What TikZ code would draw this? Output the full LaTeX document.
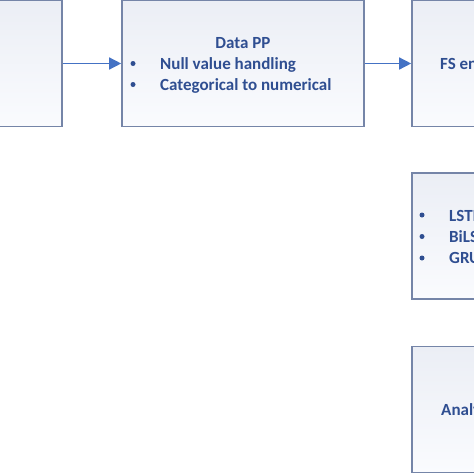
\documentclass[tikz,border=0pt]{standalone}
\usepackage{fontspec}
\setmainfont{Carlito}
\usetikzlibrary{arrows.meta, positioning}
\definecolor{boxline}{RGB}{117,133,168}
\definecolor{boxtop}{RGB}{235,238,245}
\definecolor{boxbot}{RGB}{250,251,254}
\definecolor{txtblue}{RGB}{47,78,145}
\definecolor{arrblue}{RGB}{68,114,196}
\tikzset{
  stage/.style={draw=boxline, line width=1.6pt, top color=boxtop, bottom color=boxbot,
    minimum width=242pt, minimum height=126pt, inner sep=0pt},
  label/.style={text=txtblue, font=\bfseries\fontsize{17}{21}\selectfont, inner sep=0pt, anchor=base west},
  dot/.style={fill=txtblue, circle, inner sep=0pt, minimum size=5pt},
  flow/.style={draw=arrblue, line width=1.4pt, -{Triangle[length=12pt,width=12pt]}}
}

\begin{document}
\begin{tikzpicture}[x=1pt,y=-1pt]
\useasboundingbox (0,0) rectangle (474,474);
\clip (0,0) rectangle (474,474);
% boxes
\node[stage] (input) at (-59,63.5) {};
\node[stage] (datapp) at (243,63.5) {};
\node[stage] (fs) at (533,63.5) {};
\node[stage] (models) at (533,236) {};
\node[stage] (analysis) at (533,409.5) {};
% Data PP text
\node[label, anchor=base] (ppt) at (243,48) {Data PP};
\node[dot] (pp1) at (133,63.5) {};
\node[label] (pp1t) at (160,69) {Null value handling};
\node[dot] (pp2) at (133,84.5) {};
\node[label] (pp2t) at (160,90) {Categorical to numerical};
% FS text
\node[label] (fst) at (440,69) {FS engineering};
% models text
\node[dot] (m1) at (422,215) {};
\node[label] (m1t) at (449,221) {LSTM};
\node[dot] (m2) at (422,236.5) {};
\node[label] (m2t) at (449,242) {BiLSTM};
\node[dot] (m3) at (422,258) {};
\node[label] (m3t) at (449,263.5) {GRU};
% analysis text
\node[label] (ant) at (441,415) {Analysis};
% arrows
\draw[flow] (input.east) -- (datapp.west);
\draw[flow] (datapp.east) -- (fs.west);
\end{tikzpicture}
\end{document}
